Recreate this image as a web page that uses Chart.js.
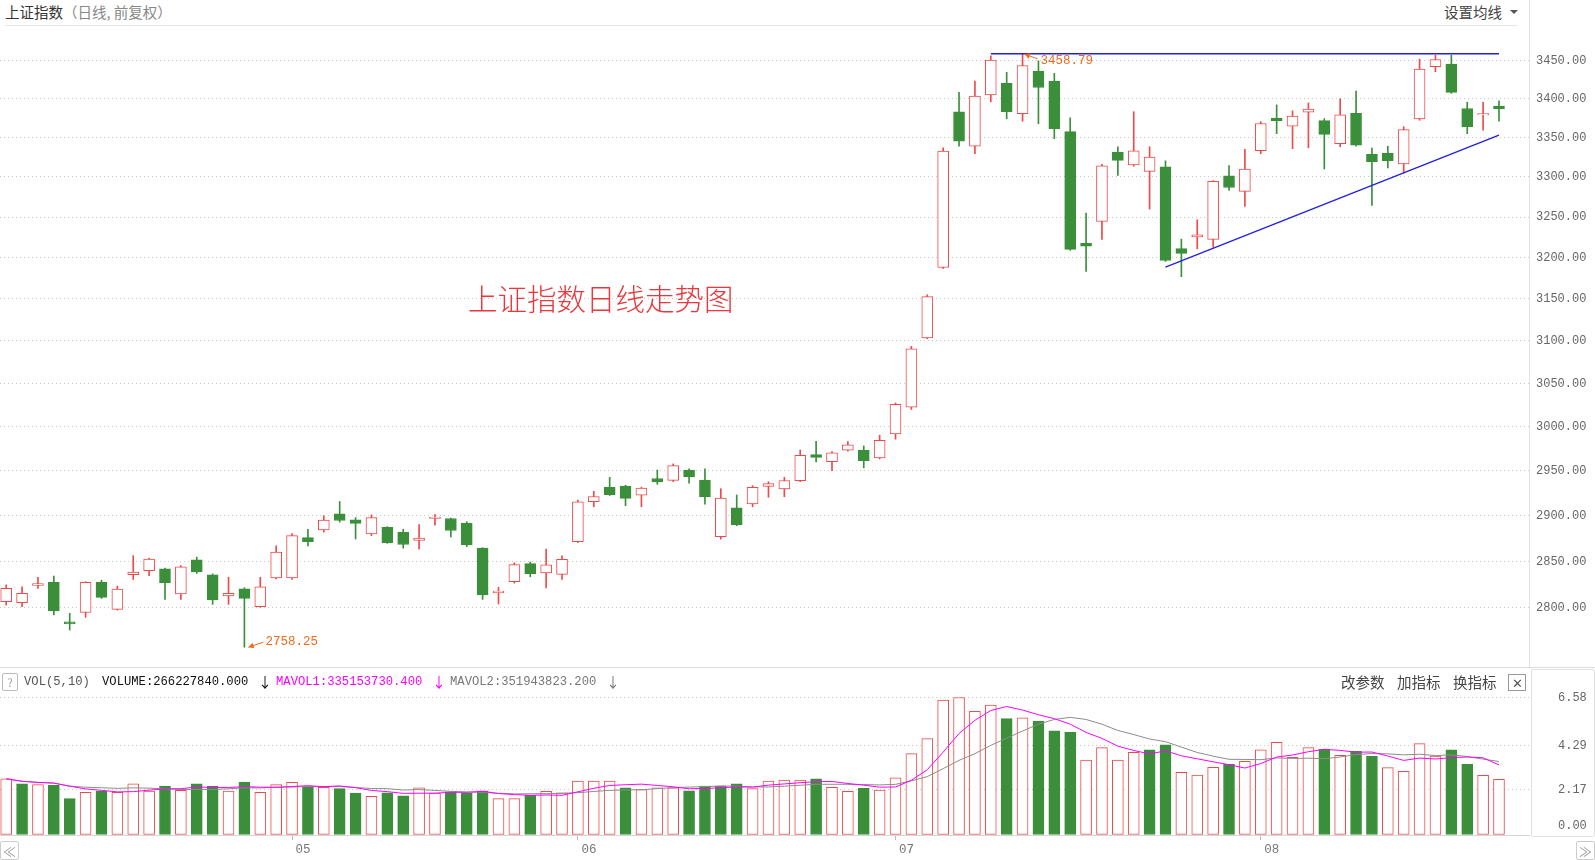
<!DOCTYPE html>
<html><head><meta charset="utf-8">
<script src="https://cdn.jsdelivr.net/npm/chart.js@4.4.0/dist/chart.umd.min.js"></script>
<style>
html,body{margin:0;padding:0;background:#fff;width:1595px;height:860px;overflow:hidden;position:relative;font-family:"Noto Sans CJK SC","Noto Sans",sans-serif;}
.abs{position:absolute;white-space:nowrap;}
.mono{font-family:"Liberation Mono","DejaVu Sans Mono",monospace;}
canvas{position:absolute;left:0;}
</style></head><body>
<canvas id="main" width="1595" height="641" style="top:26px"></canvas>
<canvas id="vol" width="1595" height="192" style="top:668px"></canvas>

<div class="abs" style="left:5px;top:25px;width:1512px;height:1px;background:#e6e6e6"></div>
<div class="abs" style="left:1529px;top:0;width:1px;height:668px;background:#e2e2e2"></div>
<div class="abs" style="left:0;top:667px;width:1595px;height:1px;background:#dcdcdc"></div>
<div class="abs" style="left:1531px;top:669px;width:62px;height:166px;border:1px solid #e0e0e0;border-radius:2px"></div>

<div class="abs" style="left:5px;top:2px;font-size:14.5px;line-height:20px;color:#333">上证指数</div>
<div class="abs" style="left:63px;top:2px;font-size:14.5px;line-height:20px;color:#888">（日线, 前复权）</div>
<div class="abs" style="left:1444px;top:2px;font-size:14.5px;line-height:20px;color:#444">设置均线</div>
<div class="abs" style="left:1510px;top:10px;width:0;height:0;border-left:4px solid transparent;border-right:4px solid transparent;border-top:4px solid #555"></div>

<div class="abs" style="left:468px;top:282px;font-size:29.5px;line-height:30px;color:#e8383d;font-weight:300">上证指数日线走势图</div>

<div class="abs" style="left:2px;top:673px;width:14px;height:16px;border:1px solid #bbb;border-radius:2px;font-size:11px;line-height:16px;text-align:center;color:#999">?</div>
<div class="abs mono" style="left:24px;top:674px;font-size:12.2px;line-height:16px;color:#555">VOL(5,10)</div>
<div class="abs mono" style="left:102px;top:674px;font-size:12.2px;line-height:16px;color:#111">VOLUME:266227840.000</div>
<div class="abs" style="left:258px;top:672px;font-size:14px;line-height:18px;color:#111">↓</div>
<div class="abs mono" style="left:276px;top:674px;font-size:12.2px;line-height:16px;color:#ff00ff">MAVOL1:335153730.400</div>
<div class="abs" style="left:432px;top:672px;font-size:14px;line-height:18px;color:#ff00ff">↓</div>
<div class="abs mono" style="left:450px;top:674px;font-size:12.2px;line-height:16px;color:#777">MAVOL2:351943823.200</div>
<div class="abs" style="left:606px;top:672px;font-size:14px;line-height:18px;color:#777">↓</div>

<div class="abs" style="left:1341px;top:672px;font-size:14.5px;line-height:20px;color:#444">改参数</div>
<div class="abs" style="left:1397px;top:672px;font-size:14.5px;line-height:20px;color:#444">加指标</div>
<div class="abs" style="left:1453px;top:672px;font-size:14.5px;line-height:20px;color:#444">换指标</div>
<div class="abs" style="left:1508px;top:674px;width:16px;height:15px;border:1px solid #999;font-size:13px;line-height:15px;text-align:center;color:#555">✕</div>

<div class="abs" style="left:0;top:841px;width:17px;height:17px;border:1px solid #ccc;border-radius:2px;font-size:13px;line-height:17px;text-align:center;color:#999">≪</div>
<div class="abs" style="left:1576px;top:841px;width:17px;height:17px;border:1px solid #ccc;border-radius:2px;font-size:13px;line-height:17px;text-align:center;color:#999">≫</div>

<script>
// ---------- data ----------
const priceTicks = [2800,2850,2900,2950,3000,3050,3100,3150,3200,3250,3300,3350,3400,3450];
const volTicks = [0, 2.17, 4.29, 6.58];
const monthTickIdx = [18, 36, 56, 79];
const monthLabels = ['05','06','07','08'];
const prevClose = 2763.99;

const open = [
2806.6,2805.5,2824.0,2827.3,2785.0,2795.0,2827.3,2798.4,2835.5,2840.0,
2842.0,2815.0,2851.6,2835.5,2812.6,2820.4,2801.2,2832.0,2832.0,2876.0,
2884.4,2902.2,2895.5,2880.0,2887.3,2881.8,2873.0,2897.0,2897.0,2891.9,
2864.4,2816.0,2828.0,2847.5,2837.4,2836.0,2871.5,2915.6,2931.7,2933.1,
2922.8,2941.5,2939.5,2951.0,2939.8,2877.1,2908.9,2913.1,2932.8,2929.8,
2939.0,2968.5,2960.5,2973.4,2973.7,2964.7,2991.9,3022.6,3103.5,3188.0,
3383.0,3339.0,3405.0,3420.0,3380.6,3436.0,3423.0,3357.5,3217.5,3244.4,
3331.4,3315.2,3307.0,3312.9,3211.0,3225.3,3222.4,3301.5,3281.9,3333.2,
3375.0,3364.6,3382.6,3371.8,3342.2,3381.0,3328.5,3329.8,3316.5,3374.0,
3441.7,3445.2,3387.3,3379.0,3390.5];
const high = [
2824.6,2822.6,2832.7,2834.2,2794.1,2828.0,2829.7,2823.3,2856.3,2853.5,
2842.8,2845.5,2854.6,2836.5,2832.7,2821.5,2832.7,2867.0,2880.5,2885.0,
2900.0,2915.8,2898.0,2901.0,2888.0,2885.2,2890.4,2901.4,2897.5,2893.4,
2865.0,2822.0,2848.5,2849.4,2863.3,2856.0,2917.5,2927.2,2942.9,2934.0,
2931.8,2951.0,2958.0,2952.5,2952.5,2930.1,2923.1,2933.5,2938.0,2942.9,
2973.7,2983.6,2971.8,2983.2,2978.3,2990.5,3027.5,3093.6,3155.0,3337.0,
3408.3,3423.0,3456.0,3434.4,3458.79,3449.5,3433.0,3375.3,3254.9,3316.0,
3338.3,3383.2,3338.3,3320.4,3222.7,3246.5,3295.5,3314.4,3334.9,3370.5,
3392.0,3384.4,3394.6,3374.3,3400.0,3410.0,3336.5,3339.0,3363.9,3451.7,
3456.9,3456.9,3395.4,3395.4,3397.2];
const low = [
2803.0,2801.2,2820.9,2792.3,2776.4,2789.9,2810.1,2797.5,2830.4,2834.4,
2809.0,2809.0,2837.0,2803.7,2803.7,2758.25,2800.5,2831.0,2830.5,2867.0,
2882.0,2893.0,2874.5,2878.0,2869.7,2864.4,2863.3,2889.7,2876.7,2866.0,
2809.0,2804.1,2826.5,2833.3,2821.2,2830.4,2870.5,2910.0,2922.5,2911.2,
2910.0,2935.0,2938.0,2936.2,2913.0,2874.3,2889.0,2910.0,2920.5,2921.2,
2938.0,2960.1,2950.2,2972.5,2953.6,2963.5,2986.0,3020.0,3102.5,3187.0,
3339.1,3329.4,3396.0,3374.0,3370.9,3367.6,3348.6,3209.0,3183.2,3222.4,
3301.9,3313.5,3259.9,3195.5,3176.8,3210.8,3212.9,3283.1,3263.1,3329.4,
3355.0,3335.8,3337.0,3310.1,3338.3,3339.0,3264.4,3311.4,3305.0,3372.1,
3435.2,3407.0,3355.0,3359.6,3370.9];
const close = [
2820.76,2815.37,2825.90,2796.63,2783.05,2827.28,2811.17,2819.94,2838.49,2852.55,
2827.01,2843.98,2838.50,2808.53,2815.49,2810.02,2822.44,2860.08,2878.14,2871.52,
2895.34,2894.80,2891.56,2898.05,2870.34,2868.46,2875.42,2898.58,2883.74,2867.92,
2813.77,2817.97,2846.55,2836.80,2846.22,2852.35,2915.43,2921.40,2923.37,2919.25,
2930.80,2937.77,2956.11,2943.32,2920.90,2919.74,2890.03,2931.75,2935.87,2939.32,
2967.63,2965.27,2970.62,2979.55,2961.52,2984.67,3025.98,3090.57,3152.81,3332.88,
3345.34,3403.44,3450.59,3383.32,3443.29,3414.62,3361.30,3210.10,3214.13,3314.15,
3320.90,3333.16,3325.11,3196.77,3205.23,3227.96,3294.55,3286.82,3310.01,3367.97,
3371.69,3377.56,3386.46,3354.04,3379.25,3340.29,3319.27,3320.73,3360.10,3438.80,
3451.09,3408.13,3363.90,3380.68,3387.0];
// volume in 1e8
const volume = [
2.69,2.45,2.41,2.39,1.74,2.04,2.10,2.04,2.45,2.10,
2.34,2.14,2.45,2.34,2.10,2.52,2.04,2.41,2.52,2.31,
2.28,2.22,2.00,1.85,2.02,1.87,2.26,2.01,2.06,2.01,
2.11,1.74,1.74,1.90,2.09,2.02,2.58,2.58,2.58,2.26,
2.17,2.26,2.26,2.11,2.34,2.34,2.45,2.22,2.58,2.63,
2.63,2.69,2.28,2.09,2.23,2.15,2.74,3.89,4.61,6.45,
6.58,5.92,6.22,5.57,5.61,5.45,4.98,4.91,3.59,4.18,
3.59,3.96,4.08,4.32,3.00,2.87,3.24,3.38,3.53,4.07,
4.43,3.72,4.18,4.10,3.81,4.00,3.76,3.22,3.05,4.37,
3.78,4.08,3.38,2.86,2.662];
const resistanceLine = [[62, 3458.79],[94, 3458.79]];
const supportLine = [[73, 3188.5],[94, 3353.0]];

// ---------- styles ----------
const RED = '#ee4a4a', GREEN = '#3b8f3b', BLUE = '#1f1fe8', ORANGE = '#f26a1b';
const X_MIN = -0.39, X_MAX = 95.89;
const MONO = '"Liberation Mono","DejaVu Sans Mono",monospace';
const idx = close.map((_, i) => i);
const candleUp = i => close[i] >= open[i];
const dayUp = i => close[i] >= (i ? close[i-1] : prevClose);
function ma(n){ return idx.map(i => { const s = Math.max(0, i-n+1); let t=0; for(let k=s;k<=i;k++) t+=volume[k]; return {x:i, y:t/(i-s+1)}; }); }
function noPad(s){ s.paddingTop = 0; s.paddingBottom = 0; s.paddingLeft = 0; s.paddingRight = 0; }

function arrow(ctx,x1,y1,x2,y2){
  ctx.lineWidth=1; ctx.beginPath(); ctx.moveTo(x1,y1); ctx.lineTo(x2,y2); ctx.stroke();
  const a=Math.atan2(y2-y1,x2-x1), L=6;
  ctx.beginPath(); ctx.moveTo(x2,y2);
  ctx.lineTo(x2-L*Math.cos(a-0.5), y2-L*Math.sin(a-0.5));
  ctx.lineTo(x2-L*Math.cos(a+0.5), y2-L*Math.sin(a+0.5));
  ctx.closePath(); ctx.fill();
}
const extremes = {
  id:'extremes',
  afterDatasetsDraw(chart){
    const {ctx, scales:{x,y}} = chart;
    let hi=0, lo=0;
    high.forEach((v,i)=>{ if(v>high[hi]) hi=i; });
    low.forEach((v,i)=>{ if(v<low[lo]) lo=i; });
    ctx.save();
    ctx.strokeStyle = ORANGE; ctx.fillStyle = ORANGE;
    ctx.font = '12.5px ' + MONO; ctx.textBaseline='middle'; ctx.textAlign='left';
    let px = x.getPixelForValue(hi), py = y.getPixelForValue(high[hi]);
    arrow(ctx, px+15, py+5, px+2, py+0.5);
    ctx.fillText(high[hi].toFixed(2), px+18, py+7);
    px = x.getPixelForValue(lo); py = y.getPixelForValue(low[lo]);
    arrow(ctx, px+19, py-5, px+4, py);
    ctx.fillText(low[lo].toFixed(2), px+21, py-5.5);
    ctx.restore();
  }
};
// the bottom volume label sits above its grid line, as in the reference
const zeroLabel = {
  id:'zeroLabel',
  afterDraw(chart){
    const s = chart.scales.y, ctx = chart.ctx;
    ctx.save();
    ctx.fillStyle = '#666'; ctx.font = '12px ' + MONO;
    ctx.textAlign = 'left'; ctx.textBaseline = 'middle';
    ctx.fillText(volTicks[0].toFixed(2), s.left + 29, s.getPixelForValue(volTicks[0]) - 9.5);
    ctx.restore();
  }
};

Chart.defaults.animation = false;
Chart.defaults.font.family = MONO;

new Chart(document.getElementById('main'), {
  type:'bar',
  data:{ datasets:[
    { type:'bar', data: idx.map(i=>({x:i, y:[low[i], high[i]]})),
      backgroundColor: idx.map(i=> candleUp(i)? RED : GREEN), borderWidth:0,
      barThickness:1, grouped:false, order:3 },
    { type:'bar', data: idx.map(i=>({x:i, y:[open[i], close[i]]})),
      backgroundColor: idx.map(i=> candleUp(i)? '#ffffff' : GREEN),
      borderColor: idx.map(i=> candleUp(i)? RED : GREEN),
      borderWidth:1, borderSkipped:false, barThickness:11, grouped:false, order:2 },
    { type:'line', data: resistanceLine.map(([x,y])=>({x,y})), borderColor:BLUE, borderWidth:1.3, pointRadius:0, order:1 },
    { type:'line', data: supportLine.map(([x,y])=>({x,y})), borderColor:BLUE, borderWidth:1.3, pointRadius:0, order:1 }
  ]},
  options:{
    responsive:false, devicePixelRatio:1, events:[],
    layout:{ padding:0, autoPadding:false },
    plugins:{ legend:{display:false}, tooltip:{enabled:false} },
    scales:{
      x:{ type:'linear', min:X_MIN, max:X_MAX, offset:false, display:false },
      y:{ type:'logarithmic', position:'right', min:2737.5, max:3495.6,
          afterFit(s){ s.width = 66; noPad(s); },
          afterBuildTicks(s){ s.ticks = priceTicks.map(v=>({value:v})); },
          ticks:{ callback:v=>Number(v).toFixed(2), color:'#666', font:{size:12, family:MONO}, padding:7, autoSkip:false },
          grid:{ color:'#c9c9c9', drawTicks:false, lineWidth:1, offset:false },
          border:{ display:false, dash:[1,3] } }
    }
  },
  plugins:[extremes]
});

new Chart(document.getElementById('vol'), {
  type:'bar',
  data:{ datasets:[
    { type:'bar', data: idx.map(i=>({x:i, y:volume[i]})),
      backgroundColor: idx.map(i=> dayUp(i)? '#ffffff' : GREEN),
      borderColor: idx.map(i=> dayUp(i)? RED : GREEN),
      borderWidth:1, borderSkipped:false, barThickness:11, grouped:false, order:3 },
    { type:'line', data: ma(10), borderColor:'#8c8c8c', borderWidth:1, pointRadius:0, order:2 },
    { type:'line', data: ma(5), borderColor:'#ff00ff', borderWidth:1, pointRadius:0, order:1 }
  ]},
  options:{
    responsive:false, devicePixelRatio:1, events:[],
    layout:{ padding:{top:20.7, left:0, right:0, bottom:0}, autoPadding:false },
    plugins:{ legend:{display:false}, tooltip:{enabled:false} },
    scales:{
      x:{ type:'linear', min:X_MIN, max:X_MAX, offset:false, position:'bottom',
          afterFit(s){ s.height = 25; noPad(s); },
          afterBuildTicks(s){ s.ticks = monthTickIdx.map(v=>({value:v})); },
          ticks:{ callback:v=>monthLabels[monthTickIdx.indexOf(v)], color:'#777', font:{size:12.5, family:MONO},
                  labelOffset:11, padding:2, maxRotation:0, autoSkip:false },
          grid:{ drawOnChartArea:false, drawTicks:true, tickLength:5, color:'#bbb', offset:false },
          border:{ display:true, color:'#d6d6d6' } },
      y:{ type:'linear', position:'right', min:0, max:7.0,
          afterFit(s){ s.width = 66; noPad(s); },
          afterBuildTicks(s){ s.ticks = volTicks.map(v=>({value:v})); },
          ticks:{ callback:v=> v === volTicks[0] ? '' : Number(v).toFixed(2), color:'#666', font:{size:12, family:MONO}, padding:29, autoSkip:false },
          grid:{ color:'#c9c9c9', drawTicks:false, offset:false },
          border:{ display:false, dash:[1,3] } }
    }
  },
  plugins:[zeroLabel]
});
</script>
</body></html>
